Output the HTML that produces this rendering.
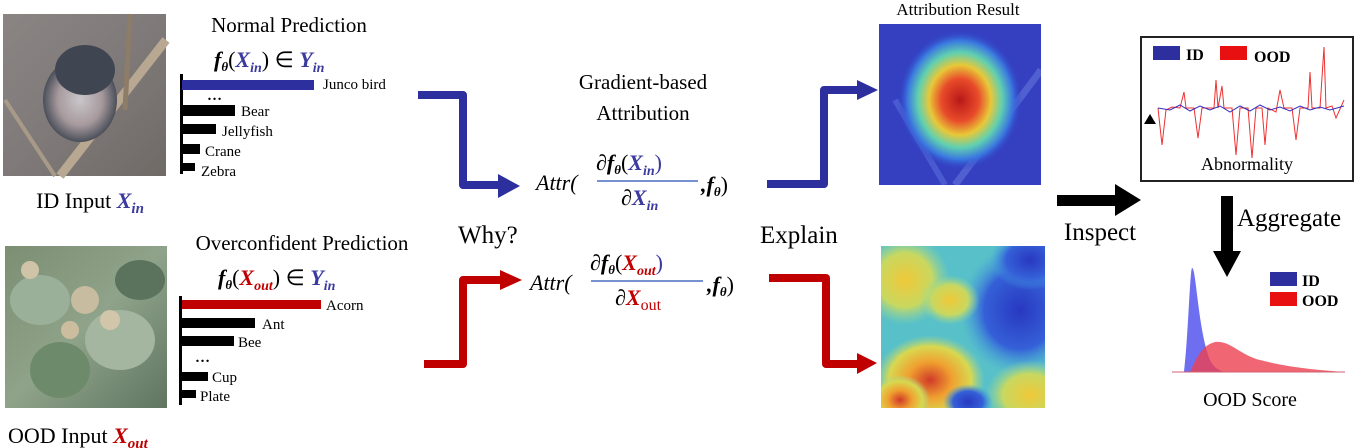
<!DOCTYPE html>
<html><head><meta charset="utf-8"><style>
html,body{margin:0;padding:0;background:#fff;width:1369px;height:448px;overflow:hidden}
svg text{font-family:"Liberation Serif",serif}
.m{font-style:italic;font-weight:bold}
</style></head><body>
<svg width="1369" height="448" viewBox="0 0 1369 448" xmlns="http://www.w3.org/2000/svg">
<defs>
<linearGradient id="bird" x1="0" y1="0" x2="1" y2="1"><stop offset="0" stop-color="#8a8583"/><stop offset="0.5" stop-color="#7f7a79"/><stop offset="1" stop-color="#6f6a66"/></linearGradient>
<radialGradient id="body" cx="0.5" cy="0.5" r="0.5"><stop offset="0" stop-color="#c9c6ca"/><stop offset="0.6" stop-color="#a79a9d"/><stop offset="1" stop-color="#4a4f5a"/></radialGradient>
<linearGradient id="leaf" x1="0" y1="0" x2="1" y2="1"><stop offset="0" stop-color="#7c8f73"/><stop offset="0.5" stop-color="#8fa38a"/><stop offset="1" stop-color="#5f7560"/></linearGradient>
<radialGradient id="hot" cx="0.5" cy="0.5" r="0.5"><stop offset="0" stop-color="#b81818"/><stop offset="0.3" stop-color="#e84a2a"/><stop offset="0.5" stop-color="#e8c838"/><stop offset="0.68" stop-color="#60d0b0"/><stop offset="0.85" stop-color="#3a78e0"/><stop offset="1" stop-color="#3040c8" stop-opacity="0"/></radialGradient>
<radialGradient id="h1" cx="0.5" cy="0.5" r="0.5"><stop offset="0" stop-color="#d03a28"/><stop offset="0.4" stop-color="#f0a030"/><stop offset="0.75" stop-color="#d8d850"/><stop offset="1" stop-color="#a0d890" stop-opacity="0"/></radialGradient>
<radialGradient id="y1" cx="0.5" cy="0.5" r="0.5"><stop offset="0" stop-color="#f0c838"/><stop offset="0.6" stop-color="#c8d860"/><stop offset="1" stop-color="#90d8a0" stop-opacity="0"/></radialGradient>
<radialGradient id="c1" cx="0.5" cy="0.5" r="0.5"><stop offset="0" stop-color="#2838c0"/><stop offset="0.6" stop-color="#3560d8"/><stop offset="1" stop-color="#40a0e0" stop-opacity="0"/></radialGradient>
<clipPath id="cp1"><rect x="879" y="24" width="162" height="161"/></clipPath>
<clipPath id="cp2"><rect x="881" y="246" width="164" height="162"/></clipPath>
</defs>

<!-- ID image -->
<rect x="3" y="14" width="163" height="162" fill="url(#bird)"/>
<line x1="60" y1="176" x2="166" y2="40" stroke="#b8a891" stroke-width="9"/>
<line x1="130" y1="14" x2="125" y2="110" stroke="#8d7c68" stroke-width="5"/>
<line x1="5" y1="100" x2="55" y2="176" stroke="#a89a88" stroke-width="4"/>
<ellipse cx="80" cy="100" rx="37" ry="42" fill="url(#body)"/>
<ellipse cx="85" cy="70" rx="30" ry="25" fill="#3f4652"/>

<!-- OOD image -->
<rect x="5" y="246" width="162" height="162" fill="url(#leaf)"/>
<ellipse cx="40" cy="300" rx="30" ry="25" fill="#9bb098"/>
<ellipse cx="120" cy="340" rx="35" ry="30" fill="#a4b6a0"/>
<ellipse cx="60" cy="370" rx="30" ry="28" fill="#6d8a6a"/>
<ellipse cx="140" cy="280" rx="25" ry="20" fill="#5b735d"/>
<circle cx="85" cy="300" r="14" fill="#c7bba0"/>
<circle cx="110" cy="320" r="10" fill="#d2c6aa"/>
<circle cx="70" cy="330" r="9" fill="#cbbd9e"/>
<circle cx="30" cy="270" r="9" fill="#d0c4a8"/>

<text x="90" y="208" font-size="22" text-anchor="middle">ID Input <tspan class="m" fill="#3b3a9e">X</tspan><tspan class="m" fill="#3b3a9e" font-size="15" dy="5">in</tspan></text>
<text x="8" y="443" font-size="22">OOD Input <tspan class="m" fill="#c00000">X</tspan><tspan class="m" fill="#c00000" font-size="15" dy="5">out</tspan></text>

<!-- Normal prediction -->
<text x="289" y="32" font-size="21" text-anchor="middle">Normal Prediction</text>
<text x="214" y="67" font-size="22"><tspan class="m">f</tspan><tspan class="m" font-size="13" dy="4">θ</tspan><tspan dy="-4">(</tspan><tspan class="m" fill="#3b3a9e">X</tspan><tspan class="m" fill="#3b3a9e" font-size="14" dy="5">in</tspan><tspan dy="-5">) ∈ </tspan><tspan class="m" fill="#3b3a9e">Y</tspan><tspan class="m" fill="#3b3a9e" font-size="14" dy="5">in</tspan></text>
<rect x="180" y="74" width="3" height="100" fill="#000"/>
<rect x="182" y="80" width="132" height="10" fill="#2e2f9e"/>
<text x="323" y="89" font-size="15">Junco bird</text>
<text x="207" y="100" font-size="15" font-weight="bold">…</text>
<rect x="182" y="105" width="53" height="11" fill="#000"/><text x="241" y="116" font-size="15">Bear</text>
<rect x="182" y="124" width="34" height="10" fill="#000"/><text x="222" y="136" font-size="15">Jellyfish</text>
<rect x="182" y="144" width="18" height="10" fill="#000"/><text x="205" y="156" font-size="15">Crane</text>
<rect x="182" y="163" width="13" height="8" fill="#000"/><text x="201" y="176" font-size="15">Zebra</text>

<!-- Overconfident -->
<text x="302" y="250" font-size="21" text-anchor="middle">Overconfident Prediction</text>
<text x="218" y="285" font-size="22"><tspan class="m">f</tspan><tspan class="m" font-size="13" dy="4">θ</tspan><tspan dy="-4">(</tspan><tspan class="m" fill="#c00000">X</tspan><tspan class="m" fill="#c00000" font-size="14" dy="5">out</tspan><tspan dy="-5">) ∈ </tspan><tspan class="m" fill="#3b3a9e">Y</tspan><tspan class="m" fill="#3b3a9e" font-size="14" dy="5">in</tspan></text>
<rect x="179" y="296" width="3" height="109" fill="#000"/>
<rect x="182" y="300" width="139" height="9" fill="#c00000"/><text x="326" y="310" font-size="15">Acorn</text>
<rect x="182" y="318" width="73" height="10" fill="#000"/><text x="262" y="329" font-size="15">Ant</text>
<rect x="182" y="336" width="52" height="10" fill="#000"/><text x="238" y="347" font-size="15">Bee</text>
<text x="195" y="362" font-size="15" font-weight="bold">…</text>
<rect x="182" y="372" width="26" height="9" fill="#000"/><text x="212" y="382" font-size="15">Cup</text>
<rect x="182" y="390" width="14" height="8" fill="#000"/><text x="200" y="401" font-size="15">Plate</text>

<!-- connectors -->
<path d="M418 95 H463 V185 H500" fill="none" stroke="#2e2f9e" stroke-width="8" stroke-linejoin="round"/>
<polygon points="498,174 520,186 498,198" fill="#2e2f9e"/>
<path d="M424 364 H463 V280 H500" fill="none" stroke="#c00000" stroke-width="8" stroke-linejoin="round"/>
<polygon points="500,270 522,280 500,290" fill="#c00000"/>
<path d="M767 184 H824 V90 H860" fill="none" stroke="#2e2f9e" stroke-width="8" stroke-linejoin="round"/>
<polygon points="857,80 878,90 857,100" fill="#2e2f9e"/>
<path d="M769 278 H826 V364 H860" fill="none" stroke="#c00000" stroke-width="8" stroke-linejoin="round"/>
<polygon points="857,353 877,363 857,374" fill="#c00000"/>

<!-- middle text -->
<text x="643" y="89" font-size="21" text-anchor="middle">Gradient-based</text>
<text x="643" y="120" font-size="21" text-anchor="middle">Attribution</text>
<text x="536" y="190" font-size="22" font-style="italic" font-family="Liberation Sans">Attr(</text>
<text x="596" y="170" font-size="22"><tspan class="m">∂f</tspan><tspan class="m" font-size="13" dy="4">θ</tspan><tspan dy="-4">(</tspan><tspan class="m" fill="#3b3a9e">X</tspan><tspan class="m" fill="#3b3a9e" font-size="14" dy="5">in</tspan><tspan dy="-5" fill="#3b3a9e">)</tspan></text>
<line x1="597" y1="181" x2="698" y2="181" stroke="#4a6fc0" stroke-width="1.5"/>
<text x="621" y="205" font-size="22"><tspan class="m">∂</tspan><tspan class="m" fill="#3b3a9e">X</tspan><tspan class="m" fill="#3b3a9e" font-size="14" dy="5">in</tspan></text>
<text x="701" y="192" font-size="22"><tspan class="m">,f</tspan><tspan class="m" font-size="13" dy="4">θ</tspan><tspan dy="-4">)</tspan></text>

<text x="530" y="290" font-size="22" font-style="italic" font-family="Liberation Sans">Attr(</text>
<text x="590" y="270" font-size="22"><tspan class="m">∂f</tspan><tspan class="m" font-size="13" dy="4">θ</tspan><tspan dy="-4">(</tspan><tspan class="m" fill="#c00000">X</tspan><tspan class="m" fill="#c00000" font-size="14" dy="5">out</tspan><tspan dy="-5" fill="#3b3a9e">)</tspan></text>
<line x1="591" y1="281" x2="703" y2="281" stroke="#4a6fc0" stroke-width="1.5"/>
<text x="615" y="305" font-size="22"><tspan class="m">∂</tspan><tspan class="m" fill="#c00000">X</tspan><tspan fill="#c00000" font-size="16" dy="5">out</tspan></text>
<text x="707" y="292" font-size="22"><tspan class="m">,f</tspan><tspan class="m" font-size="13" dy="4">θ</tspan><tspan dy="-4">)</tspan></text>

<text x="458" y="243" font-size="25">Why?</text>
<text x="760" y="243" font-size="25">Explain</text>

<!-- heatmaps -->
<text x="958" y="15" font-size="17" text-anchor="middle">Attribution Result</text>
<g clip-path="url(#cp1)">
<rect x="879" y="24" width="162" height="161" fill="#3440c0"/>
<line x1="895" y1="100" x2="945" y2="185" stroke="#4a5ad0" stroke-width="6"/>
<line x1="955" y1="185" x2="1041" y2="70" stroke="#5060d0" stroke-width="7"/>
<ellipse cx="960" cy="100" rx="62" ry="70" fill="url(#hot)"/>
</g>

<g clip-path="url(#cp2)">
<rect x="881" y="246" width="164" height="162" fill="#58c0c8"/>
<ellipse cx="1020" cy="310" rx="60" ry="65" fill="url(#c1)"/>
<ellipse cx="1030" cy="260" rx="40" ry="30" fill="url(#c1)"/>
<ellipse cx="905" cy="280" rx="45" ry="45" fill="url(#y1)"/>
<ellipse cx="950" cy="300" rx="30" ry="25" fill="url(#y1)"/>
<ellipse cx="930" cy="380" rx="55" ry="45" fill="url(#h1)"/>
<ellipse cx="900" cy="400" rx="30" ry="25" fill="url(#h1)"/>
<ellipse cx="1030" cy="395" rx="45" ry="35" fill="url(#y1)"/>
<ellipse cx="968" cy="402" rx="25" ry="18" fill="url(#c1)"/>
</g>

<!-- inspect arrow -->
<rect x="1057" y="195" width="60" height="11" fill="#000"/>
<polygon points="1115,184 1141,200 1115,216" fill="#000"/>
<text x="1100" y="240" font-size="25" text-anchor="middle">Inspect</text>

<!-- abnormality box -->
<rect x="1141" y="37" width="212" height="144" fill="#fff" stroke="#222" stroke-width="2"/>
<rect x="1153" y="46" width="27" height="14" fill="#2e2f9e"/>
<text x="1186" y="60" font-size="16" font-weight="bold">ID</text>
<rect x="1220" y="46" width="27" height="14" fill="#e81010"/>
<text x="1254" y="62" font-size="16" font-weight="bold">OOD</text>
<polygon points="1144,124 1150,114 1156,124" fill="#000"/>
<polyline fill="none" stroke="#ee3030" stroke-width="1" points="1158,108 1162,145 1166,110 1172,107 1180,108 1184,92 1186,108 1194,108 1198,138 1202,108 1214,108 1216,80 1218,108 1222,86 1224,108 1232,108 1236,155 1240,108 1248,108 1252,158 1256,108 1262,108 1265,145 1268,108 1276,112 1280,90 1284,108 1292,108 1296,140 1300,108 1308,108 1310,72 1312,108 1320,108 1324,47 1326,108 1332,106 1336,118 1344,100"/>
<polyline fill="none" stroke="#3030c0" stroke-width="1" points="1158,108 1170,110 1180,105 1190,111 1200,106 1210,110 1220,106 1230,112 1240,106 1250,111 1260,105 1270,110 1280,107 1290,111 1300,106 1310,110 1320,107 1330,110 1344,106"/>
<text x="1247" y="170" font-size="18" text-anchor="middle">Abnormality</text>

<!-- aggregate arrow -->
<rect x="1221" y="196" width="12" height="58" fill="#000"/>
<polygon points="1213,251 1241,251 1227,277" fill="#000"/>
<text x="1237" y="226" font-size="25">Aggregate</text>

<!-- density -->
<path d="M1184 372 C1188 340 1190 270 1192 268 C1196 266 1198 330 1210 360 C1215 370 1222 372 1230 372 Z" fill="#5555ee" opacity="0.85"/>
<path d="M1190 372 C1200 350 1205 345 1215 342 C1230 340 1240 355 1260 360 C1290 368 1320 370 1345 372 Z" fill="#ee4050" opacity="0.8"/>
<line x1="1172" y1="372" x2="1345" y2="372" stroke="#d06070" stroke-width="1"/>
<rect x="1270" y="272" width="27" height="14" fill="#2e2f9e"/>
<text x="1302" y="286" font-size="16" font-weight="bold">ID</text>
<rect x="1270" y="292" width="27" height="14" fill="#e81010"/>
<text x="1302" y="306" font-size="16" font-weight="bold">OOD</text>
<text x="1250" y="406" font-size="20" text-anchor="middle">OOD Score</text>
</svg>
</body></html>
